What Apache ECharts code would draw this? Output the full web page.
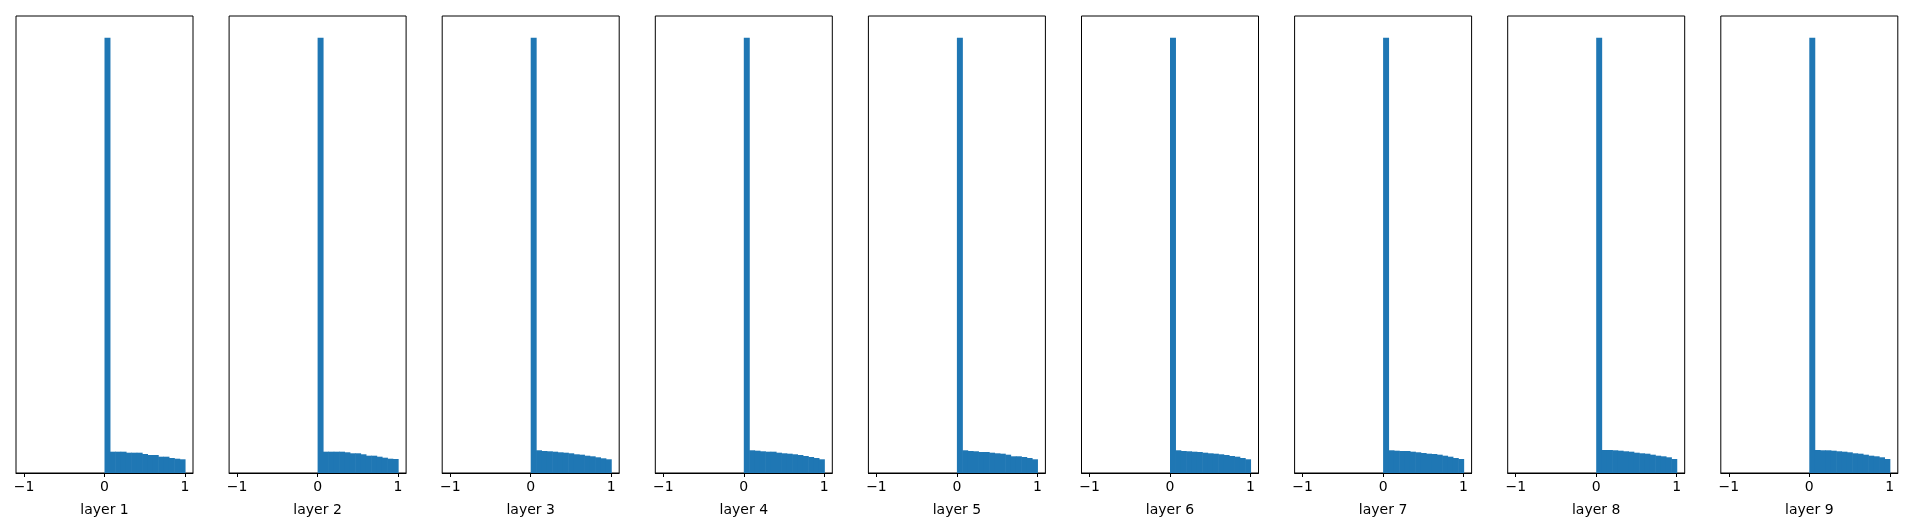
<!DOCTYPE html>
<html>
<head>
<meta charset="utf-8">
<script src="https://cdn.jsdelivr.net/npm/echarts@6/dist/echarts.min.js"></script>
<style>html,body{margin:0;padding:0;background:#fff;}#c{width:1910px;height:522px;}</style>
</head>
<body>
<div id="c"></div>
<script>
// Histogram bin edges (15 bins over [0, 1])
const binEdges = [0, 0.0667, 0.1333, 0.2, 0.2667, 0.3333, 0.4, 0.4667, 0.5333, 0.6, 0.6667, 0.7333, 0.8, 0.8667, 0.9333, 1.0];
const layerNames = ['layer 1','layer 2','layer 3','layer 4','layer 5','layer 6','layer 7','layer 8','layer 9'];
const tickValues = [-1, 0, 1];
const layer1 = [435, 21.3, 21.3, 21.3, 20.3, 20.3, 20.3, 19.0, 18.0, 18.0, 16.3, 16.3, 15.0, 14.3, 13.7];
const layer2 = [435, 21.3, 21.3, 21.3, 21.3, 20.7, 19.7, 19.7, 18.7, 17.3, 17.3, 16.3, 15.3, 14.3, 14.0];
const layer3 = [435, 22.7, 22.0, 21.7, 21.3, 20.7, 20.3, 19.7, 18.7, 18.3, 17.3, 16.7, 15.7, 14.7, 13.7];
const layer4 = [435, 22.7, 22.3, 21.7, 21.3, 21.3, 20.3, 19.7, 19.3, 18.7, 18.0, 17.0, 16.0, 15.0, 13.7];
const layer5 = [435, 22.7, 22.0, 21.7, 21.0, 21.0, 20.3, 19.7, 19.3, 18.3, 16.7, 16.7, 16.0, 15.0, 13.7];
const layer6 = [435, 22.7, 22.0, 21.7, 21.3, 21.0, 20.3, 19.7, 19.3, 18.7, 18.0, 17.0, 16.3, 15.0, 13.7];
const layer7 = [435, 22.7, 22.3, 22.0, 22.0, 21.3, 20.7, 20.0, 19.3, 19.0, 18.3, 17.3, 16.3, 15.0, 14.0];
const layer8 = [435, 23.0, 23.0, 22.7, 22.3, 21.7, 21.3, 20.3, 19.7, 19.3, 18.3, 17.3, 16.7, 15.7, 14.0];
const layer9 = [435, 23.0, 22.7, 22.7, 22.3, 21.7, 21.3, 20.7, 19.7, 19.3, 18.3, 17.3, 16.7, 15.7, 14.0];
const layers = [layer1, layer2, layer3, layer4, layer5, layer6, layer7, layer8, layer9];

const chart = echarts.init(document.getElementById('c'), null, {renderer: 'canvas'});
const font = 'DejaVu Sans';
const grids = [], xAxes = [], yAxes = [], series = [];
layers.forEach((vals, i) => {
  const left = 16 + 213.1 * i;
  grids.push({left: left, top: 16, width: 177, height: 457, show: true, borderColor: '#000', borderWidth: 1, backgroundColor: 'transparent', containLabel: false});
  xAxes.push({
    type: 'value', gridIndex: i, min: -1.1, max: 1.1,
    name: layerNames[i], nameLocation: 'middle', nameGap: 30,
    nameTextStyle: {color: '#000', fontFamily: font, fontSize: 14},
    axisLine: {show: true, onZero: false, lineStyle: {color: '#000', width: 1}},
    axisTick: {show: true, customValues: tickValues, length: 4, inside: false, lineStyle: {color: '#000', width: 1}},
    axisLabel: {show: true, customValues: tickValues, margin: 7, color: '#000', fontFamily: font, fontSize: 14,
      formatter: v => v < 0 ? '\u2212' + Math.abs(v) : String(v)},
    splitLine: {show: false}
  });
  const maxV = Math.max.apply(null, vals);
  yAxes.push({type: 'value', gridIndex: i, min: 0, max: maxV * 1.05, show: false, splitLine: {show: false}});
  const data = vals.map((v, k) => [binEdges[k], binEdges[k + 1], v]);
  series.push({
    type: 'custom', xAxisIndex: i, yAxisIndex: i, data: data,
    encode: {x: [0, 1], y: 2},
    renderItem: function (params, api) {
      const p0 = api.coord([api.value(0), api.value(2)]);
      const p1 = api.coord([api.value(1), 0]);
      return {type: 'rect', shape: {x: p0[0], y: p0[1], width: p1[0] - p0[0] + 0.6, height: p1[1] - p0[1]},
        style: {fill: '#1f77b4', lineWidth: 0}};
    }
  });
});
chart.setOption({animation: false, backgroundColor: '#fff', grid: grids, xAxis: xAxes, yAxis: yAxes, series: series});
</script>
</body>
</html>
